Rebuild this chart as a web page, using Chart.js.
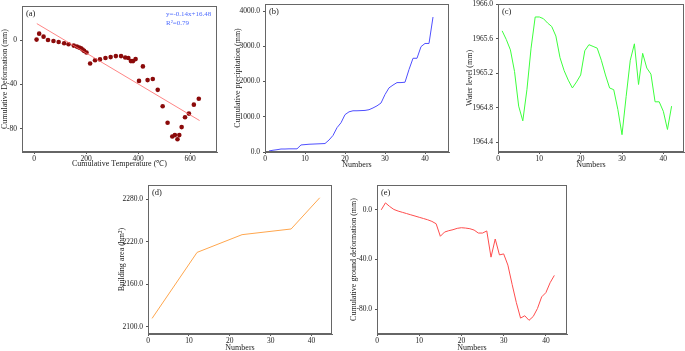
<!DOCTYPE html>
<html>
<head>
<meta charset="utf-8">
<script src="https://cdn.jsdelivr.net/npm/chart.js@4.4.1/dist/chart.umd.min.js"></script>
<style>
html, body { margin: 0; padding: 0; background: #fff; overflow: hidden; }
#wrap { position: relative; width: 685px; height: 351px; }
canvas { position: absolute; }
</style>
</head>
<body>
<div id="wrap">
<canvas id="chartA" width="225" height="175" style="left:0px;top:-6px"></canvas>
<canvas id="chartB" width="219" height="176" style="left:233px;top:-6px"></canvas>
<canvas id="chartC" width="220" height="176" style="left:465px;top:-6px"></canvas>
<canvas id="chartD" width="219" height="178" style="left:117px;top:175px"></canvas>
<canvas id="chartE" width="222" height="178" style="left:349px;top:175px"></canvas>
</div>
<script>
// (a) cumulative temperature vs cumulative deformation
const tempX = [9, 19, 36, 53, 74, 94, 115, 132, 152, 164, 173, 180, 186, 192, 201, 215, 234, 253, 274, 294, 314, 334, 350, 362, 372, 380, 390, 403, 418, 436, 456, 475, 494, 513, 531, 541, 551, 558, 567, 580, 595, 614, 633];
const deformY = [0.6, 6, 3.3, 0.3, -0.6, -1.5, -2.7, -3.6, -4.8, -5.7, -6.6, -7.2, -8.4, -9.6, -11, -21, -18, -17.3, -16, -15.2, -14.3, -14.3, -15.5, -16, -18.8, -18.8, -17, -36.7, -23.6, -36, -35, -44.8, -59.7, -74.6, -87, -85.7, -89.5, -85.7, -78.5, -69.6, -66.3, -58.2, -52.8];
const fitSlope = -0.14;
const fitIntercept = 16.48;
const fitRange = [10, 636];

// (b)-(e) series over the 42 numbers
const numbers = [1, 2, 3, 4, 5, 6, 7, 8, 9, 10, 11, 12, 13, 14, 15, 16, 17, 18, 19, 20, 21, 22, 23, 24, 25, 26, 27, 28, 29, 30, 31, 32, 33, 34, 35, 36, 37, 38, 39, 40, 41, 42];
const precipitation = [30, 50, 65, 85, 85, 90, 90, 90, 200, 210, 220, 225, 230, 235, 240, 340, 470, 690, 830, 1060, 1140, 1170, 1170, 1175, 1180, 1200, 1250, 1310, 1390, 1630, 1820, 1900, 1970, 1970, 1980, 2340, 2660, 2660, 2990, 3080, 3080, 3830];
const waterLevel = [1965.69, 1965.59, 1965.47, 1965.22, 1964.82, 1964.65, 1965.01, 1965.49, 1965.85, 1965.85, 1965.83, 1965.78, 1965.74, 1965.63, 1965.38, 1965.23, 1965.12, 1965.03, 1965.10, 1965.18, 1965.46, 1965.53, 1965.51, 1965.49, 1965.35, 1965.18, 1965.03, 1965.01, 1964.78, 1964.49, 1964.93, 1965.35, 1965.54, 1965.07, 1965.43, 1965.26, 1965.19, 1964.87, 1964.87, 1964.76, 1964.55, 1964.82];
const areaNumbers = [1, 12, 23, 35, 42];
const buildingArea = [2112, 2205, 2230, 2238, 2282];
const groundDeform = [0, 5.6, 2.7, 0.3, -1, -2, -3, -4, -5, -6, -7, -8, -9.3, -11.2, -21.3, -17.9, -16.8, -16, -14.9, -14.4, -14.7, -15.2, -16.3, -18.7, -18.7, -17, -38.1, -23.5, -36.3, -35.5, -44.5, -60, -74.7, -87.2, -85.3, -89, -85.9, -79.5, -70.1, -66.7, -58.7, -52.8];

// tick labels
const tempTicks = [0, 200, 400, 600];
const numberTicks = [0, 10, 20, 30, 40];
const deformTicks = [-80, -40, 0];
const precipTicks = [0, 1000, 2000, 3000, 4000];
const levelTicks = [1964.4, 1964.8, 1965.2, 1965.6, 1966.0];
const areaTicks = [2100, 2160, 2220, 2280];
const groundTicks = [-80, -40, 0];

const FONT = '"Liberation Serif", "Times New Roman", serif';

const boxPlugin = {
    id: 'panelBox',
    afterDraw(chart) {
        const a = chart.chartArea;
        const ctx = chart.ctx;
        const o = chart.options.plugins.panelBox || {};
        ctx.save();
        ctx.strokeStyle = '#666';
        ctx.lineWidth = 1;
        ctx.strokeRect(Math.round(a.left) + 0.5, Math.round(a.top) + 0.5, Math.round(a.right - a.left) - 1, Math.round(a.bottom - a.top) - 1);
        ctx.fillStyle = '#222';
        ctx.font = '8.5px ' + FONT;
        ctx.textBaseline = 'middle';
        ctx.fillText(o.label || '', a.left + 4, a.top + 8);
        if (o.lines) {
            ctx.fillStyle = '#4d6bfe';
            ctx.font = '7px ' + FONT;
            o.lines.forEach((t, i) => ctx.fillText(t, a.right - 51, a.top + 8 + i * 9.5));
        }
        ctx.restore();
    },
};

function axis(min, max, ticks, title, size, fmt) {
    return {
        type: 'linear',
        min: min,
        max: max,
        afterBuildTicks: s => { s.ticks = ticks.map(v => ({ value: v })); },
        afterFit: s => { if (s.isHorizontal()) s.height = size; else s.width = size; },
        grid: { drawOnChartArea: false, tickLength: 2, color: '#555' },
        border: { color: '#666' },
        ticks: {
            padding: 1,
            color: '#222',
            font: { family: FONT, size: 7.5 },
            maxRotation: 0,
            callback: fmt,
        },
        title: { display: true, text: title, padding: 0, color: '#222', font: { family: FONT, size: 8 } },
    };
}

function yAxis(min, max, ticks, title, size, fmt) {
    let a = axis(min, max, ticks, title, size, fmt);
    a.ticks.padding = 3;
    return a;
}

const intFmt = v => String(v);
const oneFmt = v => v.toFixed(1);

function baseConfig(datasets, x, y, padTop, padRight, box) {
    return {
        type: 'scatter',
        data: { datasets: datasets },
        options: {
            responsive: false,
            animation: false,
            layout: { padding: { top: padTop, right: padRight, left: 0, bottom: 0 } },
            plugins: { legend: { display: false }, tooltip: { enabled: false }, panelBox: box },
            scales: { x: x, y: y },
        },
        plugins: [boxPlugin],
    };
}

function lineSet(xs, ys, color) {
    return {
        data: xs.map((x, i) => ({ x: x, y: ys[i] })),
        showLine: true,
        borderColor: color,
        borderWidth: 1,
        pointRadius: 0,
        tension: 0,
    };
}

let chartA = new Chart(document.getElementById('chartA'), baseConfig([
    {
        data: fitRange.map(x => ({ x: x, y: fitSlope * x + fitIntercept })),
        showLine: true,
        borderColor: '#ff6666',
        borderWidth: 0.8,
        pointRadius: 0,
    },
    {
        data: tempX.map((x, i) => ({ x: x, y: deformY[i] })),
        pointRadius: 2.3,
        pointBackgroundColor: '#8b0a0a',
        pointBorderWidth: 0,
    },
], axis(-47, 703, tempTicks, 'Cumulative Temperature (℃)', 17, intFmt),
   yAxis(-101, 31, deformTicks, 'Cumulative Deformation (mm)', 22, intFmt), 12, 8,
   { label: '(a)', lines: ['y=-0.14x+16.48', 'R²=0.79'] }));

let chartB = new Chart(document.getElementById('chartB'), baseConfig([
    lineSet(numbers, precipitation, '#4f4fff'),
], axis(0, 46, numberTicks, 'Numbers', 18, intFmt),
   yAxis(0, 4200, precipTicks, 'Cumulative precipitation (mm)', 32, oneFmt), 10, 3, { label: '(b)' }));

let chartC = new Chart(document.getElementById('chartC'), baseConfig([
    lineSet(numbers, waterLevel, '#3cff3c'),
], axis(0, 45, numberTicks, 'Numbers', 18, intFmt),
   yAxis(1964.29, 1966.0, levelTicks, 'Water level (mm)', 33, oneFmt), 10, 1, { label: '(c)' }));

let chartD = new Chart(document.getElementById('chartD'), baseConfig([
    lineSet(areaNumbers, buildingArea, '#ffa64d'),
], axis(0, 45, numberTicks, 'Numbers', 19, intFmt),
   yAxis(2090, 2300, areaTicks, 'Building area (hm²)', 31, oneFmt), 10, 4, { label: '(d)' }));

let chartE = new Chart(document.getElementById('chartE'), baseConfig([
    lineSet(numbers, groundDeform, '#ff4d4d'),
], axis(0, 45, numberTicks, 'Numbers', 19, intFmt),
   yAxis(-100, 20, groundTicks, 'Cumulative ground deformation (mm)', 28, oneFmt), 10, 4, { label: '(e)' }));
</script>
</body>
</html>
